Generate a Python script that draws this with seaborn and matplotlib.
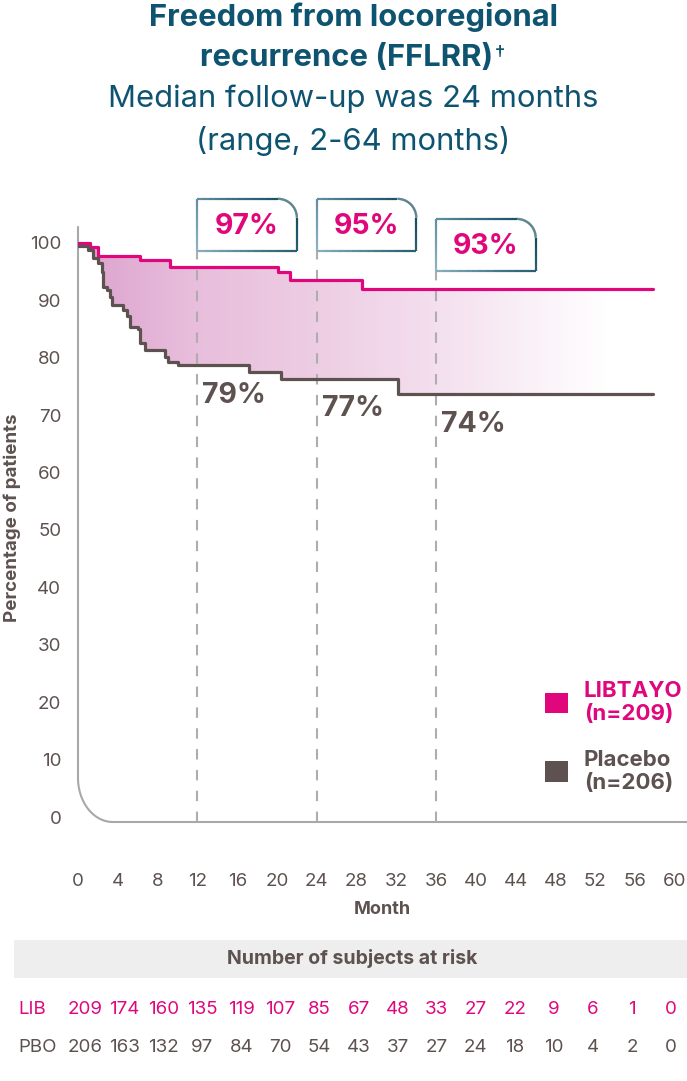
import numpy as np
import pandas as pd
import seaborn as sns
import matplotlib.pyplot as plt
import matplotlib.transforms as mtransforms
from matplotlib.colors import LinearSegmentedColormap
from matplotlib.collections import LineCollection
from matplotlib.patches import Polygon, Rectangle, Patch

# Kaplan-Meier style curves
lib_month = [0, 1.2, 2.0, 6.2, 9.2, 20.1, 21.3, 28.5, 57.8]
lib_pct = [100, 99.3, 97.7, 97.0, 95.9, 95.0, 93.6, 92.0, 92.0]
pbo_month = [0, 1.0, 1.5, 2.0, 2.4, 2.5, 2.9, 3.2, 3.4, 4.5, 4.9, 5.2, 6.0,
             6.2, 6.7, 8.7, 9.0, 10.0, 17.2, 20.4, 32.2, 57.8]
pbo_pct = [99.4, 98.8, 97.3, 96.5, 95.0, 92.4, 91.8, 90.6, 89.2, 88.3, 87.2,
           85.4, 85.1, 82.5, 81.4, 80.2, 79.3, 78.7, 77.6, 76.3, 73.7, 73.7]

landmarks = [12, 24, 36]
lib_landmark_labels = ['97%', '95%', '93%']
pbo_landmark_labels = ['79%', '77%', '74%']

risk_months = list(range(0, 61, 4))
lib_risk = [209, 174, 160, 135, 119, 107, 85, 67, 48, 33, 27, 22, 9, 6, 1, 0]
pbo_risk = [206, 163, 132, 97, 84, 70, 54, 43, 37, 27, 24, 18, 10, 4, 2, 0]

PINK = '#E0077D'
GRAY = '#5D5250'
TEAL = '#0E5470'
AXIS = '#A8A8A8'

sns.set_style('white')
plt.rcParams['font.family'] = ['Inter', 'DejaVu Sans']

W, H = 687, 1081
fig = plt.figure(figsize=(W / 100, H / 100), dpi=100)

# axes placed in pixels: month 0 at x=78, baseline at y=822
px_per_month = 9.95
px_per_pct = 5.74
ax_top_px = 180
ax = fig.add_axes([78 / W, 1 - 822 / H, (W - 78) / W, (822 - ax_top_px) / H])
for s in ax.spines.values():
    s.set_visible(False)


def step_xy(m, v):
    xs = np.repeat(np.asarray(m, float), 2)[1:]
    ys = np.repeat(np.asarray(v, float), 2)[:-1]
    return xs, ys


# gradient fill between the curves
lx, ly = step_xy(lib_month, lib_pct)
gx, gy = step_xy(pbo_month, pbo_pct)
poly = Polygon(np.column_stack([np.r_[lx, gx[::-1]], np.r_[ly, gy[::-1]]]),
               closed=True, facecolor='none', edgecolor='none')
ax.add_patch(poly)
fill_cmap = LinearSegmentedColormap.from_list(
    'fade', [(0, '#DCA2CE'), (0.2, '#E8BEDC'), (0.41, '#EDCDE3'),
             (0.62, '#F4DFEE'), (0.78, '#FAF0F7'), (0.92, '#FFFFFF'),
             (1, '#FFFFFF')])
im = ax.imshow(np.linspace(0, 1, 256).reshape(1, -1), cmap=fill_cmap,
               extent=[0, max(lib_month), 70, 101], aspect='auto', zorder=1)
im.set_clip_path(poly)

# curves
df = pd.concat([
    pd.DataFrame({'month': lib_month, 'pct': lib_pct, 'arm': 'LIBTAYO'}),
    pd.DataFrame({'month': pbo_month, 'pct': pbo_pct, 'arm': 'Placebo'}),
])
sns.lineplot(data=df, x='month', y='pct', hue='arm',
             palette={'LIBTAYO': PINK, 'Placebo': GRAY}, estimator=None,
             sort=False, drawstyle='steps-post', linewidth=2.3, legend=False,
             ax=ax, zorder=3)

ax.set_xlim(0, (W - 78) / px_per_month)
ax.set_ylim((817 - 822) / px_per_pct, (817 - ax_top_px) / px_per_pct)

# custom axis frame with rounded corner
y_base = (817 - 822) / px_per_pct
rx, ry = 3.5, 7.7
t = np.linspace(0, np.pi / 2, 40)
fx = np.r_[0, 0, rx - rx * np.cos(t), ax.get_xlim()[1]]
fy = np.r_[102.8, y_base + ry, y_base + ry - ry * np.sin(t), y_base]
ax.plot(fx, fy, color=AXIS, lw=1.5, clip_on=False, zorder=2)

# landmark dashed lines
dash_tops = [98.6, 98.6, 95.1]
for m, top in zip(landmarks, dash_tops):
    ax.plot([m, m], [y_base, top], color='#ADADAD', lw=1.5,
            ls=(0, (5, 5)), zorder=2)

# landmark boxes for LIBTAYO
box_cmap = LinearSegmentedColormap.from_list(
    'edge', [(0, '#8DB3C2'), (0.5, '#3F7387'), (1, '#0B4556')])
box_bottoms = [98.6, 98.6, 95.1]
box_h = 9.1
bw = 10.0
crx, cry = 1.9, 3.3
for m, b, lab in zip(landmarks, box_bottoms, lib_landmark_labels):
    tt = np.linspace(np.pi / 2, 0, 20)
    px = np.r_[m + bw, m, m, m + bw - crx + crx * np.cos(tt), m + bw]
    py = np.r_[b, b, b + box_h, b + box_h - cry + cry * np.sin(tt), b]
    # densify path to colour it as a gradient
    dx, dy = [], []
    for i in range(len(px) - 1):
        dx.append(np.linspace(px[i], px[i + 1], 15))
        dy.append(np.linspace(py[i], py[i + 1], 15))
    dx, dy = np.concatenate(dx), np.concatenate(dy)
    pts = np.column_stack([dx, dy]).reshape(-1, 1, 2)
    segs = np.concatenate([pts[:-1], pts[1:]], axis=1)
    tval = 0.7 * (dx[:-1] - m) / bw + 0.3 * (dy[:-1] - b) / box_h
    lc = LineCollection(segs, colors=box_cmap(tval), linewidths=1.6,
                        clip_on=False, zorder=4)
    ax.add_collection(lc)
    ax.text(m + 4.95, b + box_h / 2 - 0.3, lab, color=PINK, fontsize=20.5,
            fontweight='bold', ha='center', va='center', zorder=5)

pbo_label_y = [73.5, 71.25, 68.3]
for m, yv, lab in zip(landmarks, pbo_label_y, pbo_landmark_labels):
    ax.text(m + 0.5, yv, lab, color=GRAY, fontsize=20.5, fontweight='bold',
            ha='left', va='center', zorder=5)

# ticks
ax.set_xticks(risk_months)
ax.set_yticks(range(0, 101, 10))
ax.tick_params(axis='x', length=0, pad=37, labelsize=13.5, labelcolor=GRAY)
ax.tick_params(axis='y', length=0, pad=12, labelsize=13.5, labelcolor=GRAY)
ax.set_xlabel('Month', fontsize=13, fontweight='bold', color=GRAY,
              labelpad=8)
ax.set_ylabel('')
fig.text(12 / W, 1 - 518 / H, 'Percentage of patients', rotation=90,
         ha='center', va='center', fontsize=13.5, fontweight='bold',
         color=GRAY)

# legend
handles = [Patch(facecolor=PINK, edgecolor='none'),
           Patch(facecolor=GRAY, edgecolor='none')]
leg = ax.legend(handles, ['LIBTAYO\n(n=209)', 'Placebo\n(n=206)'],
                loc='upper left', bbox_to_anchor=(545 / W, 1 - 681 / H),
                bbox_transform=fig.transFigure, frameon=False,
                prop={'weight': 'bold', 'size': 16}, handlelength=1.05,
                handleheight=1.05, handletextpad=0.7, labelspacing=1.15,
                borderpad=0, borderaxespad=0)
for txt, c in zip(leg.get_texts(), [PINK, GRAY]):
    txt.set_color(c)

# title
cx = 353 / W
TS = 22.3
fig.text(cx, 1 - 26 / H, 'Freedom from locoregional', ha='center',
         va='baseline', fontsize=TS, fontweight='bold', color=TEAL)
t2 = fig.text(cx - 6 / W, 1 - 66 / H, 'recurrence (FFLRR)', ha='center',
              va='baseline', fontsize=TS, fontweight='bold', color=TEAL)
fig.canvas.draw()
bb = t2.get_window_extent()
fig.text((bb.x1 + 1) / W, (bb.y1 - 1) / H, '†', ha='left', va='top',
         fontsize=15, color=TEAL)
fig.text(cx, 1 - 107 / H, 'Median follow-up was 24 months', ha='center',
         va='baseline', fontsize=TS, color=TEAL)
fig.text(cx, 1 - 150 / H, '(range, 2-64 months)', ha='center',
         va='baseline', fontsize=TS, color=TEAL)

# number at risk table
fig.patches.append(Rectangle((14 / W, 1 - 978 / H), (W - 14) / W, 38 / H,
                             transform=fig.transFigure, facecolor='#EEEEEE',
                             edgecolor='none', zorder=0))
fig.text(352 / W, 1 - 959 / H, 'Number of subjects at risk', ha='center',
         va='center', fontsize=14, fontweight='bold', color=GRAY)
blend = mtransforms.blended_transform_factory(ax.transData, fig.transFigure)
for row_y, name, vals, c in [(1010, 'LIB', lib_risk, PINK),
                             (1047, 'PBO', pbo_risk, GRAY)]:
    fig.text(18 / W, 1 - row_y / H, name, ha='left', va='center',
             fontsize=13.5, color=c)
    for m, v in zip(risk_months, vals):
        ax.text(0.7 + 0.982 * m, 1 - row_y / H, str(v), transform=blend,
                ha='center', va='center', fontsize=13.5, color=c,
                clip_on=False)

fig.savefig('out.png', dpi=100)
